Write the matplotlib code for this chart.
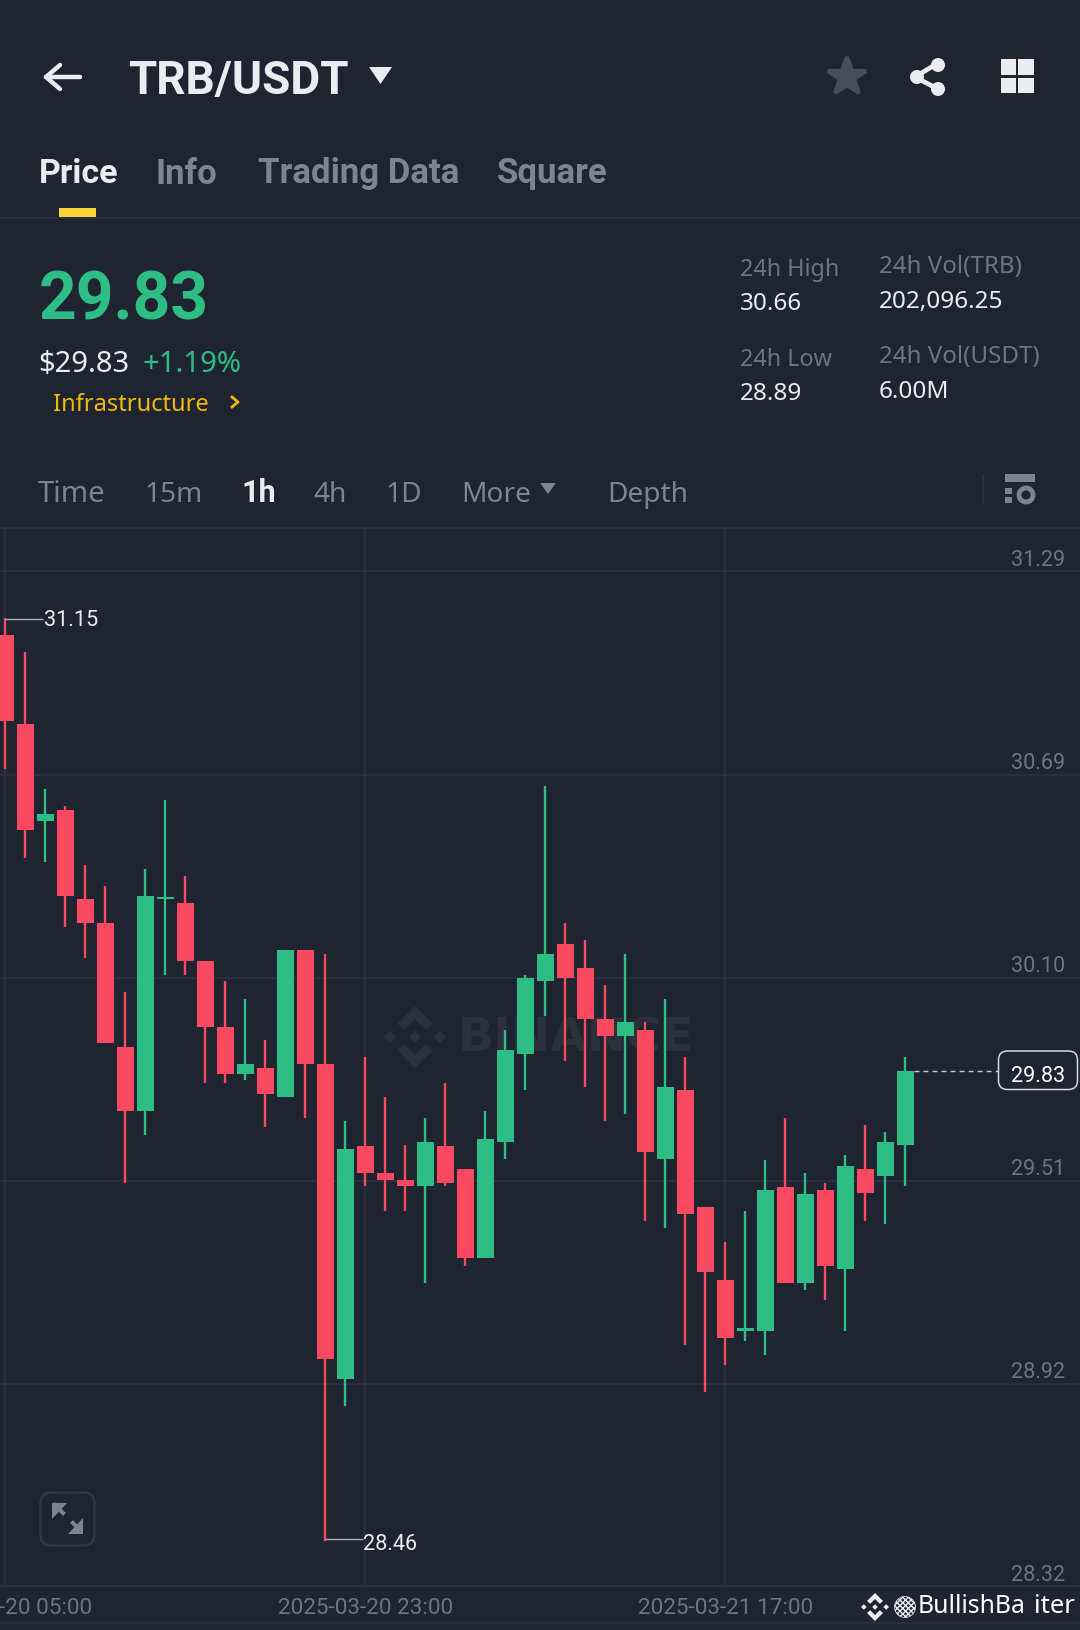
import matplotlib
matplotlib.use("Agg")
import matplotlib.pyplot as plt
from matplotlib.patches import Rectangle, FancyBboxPatch, Circle, Polygon

BG = "#1e2530"; GRID = "#2d3440"; GREEN = "#2ebd85"; RED = "#f84960"
GREY = "#7c8492"; DIM = "#6c7482"; WHITE = "#eaecef"; YELLOW = "#f0b90b"

opens = [31.105, 30.843, 30.561, 30.592, 30.331, 30.261, 29.900, 29.713, 30.331, 30.321, 30.150, 29.959,
         29.820, 29.839, 29.753, 30.182, 29.849, 28.928, 29.611, 29.532, 29.511, 29.492, 29.611, 29.541,
         29.281, 29.622, 29.880, 30.091, 30.200, 30.130, 29.981, 29.930, 29.950, 29.571, 29.773, 29.430,
         29.219, 29.069, 29.069, 29.491, 29.210, 29.481, 29.250, 29.541, 29.522, 29.612]
closes = [30.854, 30.533, 30.582, 30.342, 30.262, 29.910, 29.713, 30.342, 30.339, 30.151, 29.959, 29.820,
          29.849, 29.763, 30.182, 29.849, 28.987, 29.602, 29.532, 29.511, 29.492, 29.622, 29.501, 29.281,
          29.631, 29.889, 30.100, 30.170, 30.101, 29.981, 29.930, 29.971, 29.592, 29.781, 29.412, 29.241,
          29.049, 29.077, 29.481, 29.210, 29.470, 29.260, 29.551, 29.471, 29.622, 29.830]
highs = [31.155, 31.054, 30.653, 30.603, 30.431, 30.371, 30.060, 30.421, 30.623, 30.400, 30.150, 30.091,
         30.040, 29.920, 30.182, 30.182, 30.171, 29.682, 29.870, 29.752, 29.612, 29.693, 29.794, 29.541,
         29.712, 29.950, 30.111, 30.662, 30.262, 30.211, 30.080, 30.171, 29.971, 30.041, 29.870, 29.430,
         29.330, 29.420, 29.570, 29.691, 29.531, 29.501, 29.582, 29.672, 29.652, 29.870]
lows = [30.713, 30.452, 30.441, 30.251, 30.160, 29.910, 29.501, 29.643, 30.110, 30.110, 29.794, 29.794,
        29.803, 29.664, 29.753, 29.693, 28.455, 28.848, 29.492, 29.420, 29.420, 29.209, 29.492, 29.260,
        29.281, 29.571, 29.773, 29.990, 29.859, 29.783, 29.682, 29.703, 29.390, 29.370, 29.028, 28.889,
        28.969, 29.039, 28.999, 29.210, 29.190, 29.159, 29.069, 29.390, 29.381, 29.492]

grid_prices = [31.29, 30.696, 30.102, 29.508, 28.914, 28.32]
grid_labels = ["31.29", "30.69", "30.10", "29.51", "28.92", "28.32"]
grid_candles = [0, 18, 36]
time_labels = ["-20 05:00", "2025-03-20 23:00", "2025-03-21 17:00"]
last_price = 29.83
max_price, max_index = 31.15, 0
min_price, min_index = 28.46, 16

W, H = 1080, 1631
fig = plt.figure(figsize=(W / 100, H / 100), dpi=100, facecolor=BG)

def rect(l, t, r, b):
    return [l / W, 1 - b / H, (r - l) / W, (b - t) / H]

def logo(a, cx, cy, k, color):
    """Binance diamond mark, k = half-height in pixels."""
    u = k / 35
    for dx, s in [(0, 7), (-28, 7), (28, 7)]:
        a.add_patch(Polygon([(cx + dx * u, cy - s * u), (cx + (dx + s) * u, cy),
                             (cx + dx * u, cy + s * u), (cx + (dx - s) * u, cy)],
                            closed=True, color=color, lw=0))
    for sgn in (-1, 1):
        pts = [(0, 35), (20, 15), (12, 8), (0, 20), (-12, 8), (-20, 15)]
        a.add_patch(Polygon([(cx + x * u, cy + sgn * y * u) for x, y in pts], closed=True, color=color, lw=0))

# background layer: faint watermark and the last-price box
bg = fig.add_axes([0, 0, 1, 1], zorder=0); bg.set_xlim(0, W); bg.set_ylim(H, 0); bg.axis("off")
WM = "#2a313d"
logo(bg, 415, 1038, 31, WM)
bg.text(458, 1039, "BINANCE", color=WM, fontsize=34, family="DejaVu Sans", weight="bold", va="center", ha="left")
bg.add_patch(FancyBboxPatch((1006, 1059.5), 64, 23.5, boxstyle="round,pad=7.5,rounding_size=9", fc=BG, ec="#d5d9df", lw=1.1))

# chart
ax = fig.add_axes(rect(0, 529, 1080, 1588), zorder=1)
ax.patch.set_alpha(0)
ax.set_xlim(-0.26, 53.74)
ax.set_ylim(28.32, 31.417)
for s in ax.spines.values():
    s.set_visible(False)
ax.set_yticks(grid_prices); ax.set_xticks(grid_candles)
ax.set_xticklabels([]); ax.set_yticklabels([])
ax.tick_params(length=0)
ax.grid(True, color=GRID, lw=1.1)
ax.set_axisbelow(True)

idx = list(range(len(opens)))
colors = [GREEN if c >= o else RED for o, c in zip(opens, closes)]
ax.vlines(idx, lows, highs, colors=colors, lw=1.7, zorder=3)
ax.bar(idx, [abs(c - o) for o, c in zip(opens, closes)], bottom=[min(o, c) for o, c in zip(opens, closes)],
       width=0.865, color=colors, lw=0, zorder=4)

# price axis labels
for p, lab in zip(grid_prices, grid_labels):
    ax.annotate(lab, xy=(1065 / W, p), xycoords=("axes fraction", "data"), xytext=(0, 12),
                textcoords="offset pixels", ha="right", va="center", color=DIM, fontsize=15.6, family="Roboto",
                annotation_clip=False)
# time labels
for i, lab in zip(grid_candles, time_labels):
    kw = dict(ha="right", xytext=(87, -21)) if i == 0 else dict(ha="center", xytext=(0, -21))
    ax.annotate(lab, xy=(i, 0), xycoords=("data", "axes fraction"), textcoords="offset pixels", va="center",
                color=DIM, fontsize=16.2, family="Roboto", annotation_clip=False, **kw)

# high / low leaders
LEAD = "#aab0ba"
ax.hlines(max_price, max_index, max_index + 1.9, colors=LEAD, lw=1, zorder=5)
ax.hlines(min_price, min_index, min_index + 1.9, colors=LEAD, lw=1, zorder=5)
ax.annotate(f"{max_price:.2f}", xy=(max_index, max_price), xytext=(39, 0), textcoords="offset pixels", va="center",
            color=WHITE, fontsize=15.6, family="Roboto", zorder=6)
ax.annotate(f"{min_price:.2f}", xy=(min_index, min_price), xytext=(38, -4), textcoords="offset pixels", va="center",
            color=WHITE, fontsize=15.6, family="Roboto", zorder=6)

# last price
ax.hlines(last_price, 45.45, 49.65, colors="#c8ccd2", lw=1, linestyles=(0, (3.5, 3)), zorder=5)
ax.annotate(f"{last_price:.2f}", xy=(1038 / W, last_price), xycoords=("axes fraction", "data"), xytext=(0, -5),
            textcoords="offset pixels", ha="center", va="center", color="white", fontsize=15.6, family="Roboto",
            annotation_clip=False, zorder=7)

# UI overlay
ui = fig.add_axes([0, 0, 1, 1], zorder=2); ui.set_xlim(0, W); ui.set_ylim(H, 0); ui.axis("off"); ui.patch.set_alpha(0)
NS = "Noto Sans"; RB = "Roboto"
def T(x, y, s, color=GREY, size=18, weight="normal", ha="left", family=NS):
    ui.text(x, y, s, color=color, fontsize=size, weight=weight, ha=ha, va="center", family=family)

for y in (218.5, 529, 1587.5, 1624):
    ui.plot([0, W], [y, y], color=GRID, lw=1.1)
ui.plot([983, 983], [476, 505], color=GRID, lw=1.2)

# header
ui.plot([46, 80], [78, 78], color=WHITE, lw=3.2, solid_capstyle="round")
ui.plot([60, 46, 60], [66, 78, 90], color=WHITE, lw=3.2, solid_capstyle="round", solid_joinstyle="round")
T(128, 81, "TRB/USDT", WHITE, 33, "bold", family=RB)
ui.add_patch(Polygon([(369, 68), (392, 68), (380.5, 85)], closed=True, color=WHITE, lw=0))
ui.plot([847], [78], marker="*", ms=29, color="#474e5b", mew=3, mec="#474e5b", mfc="#474e5b")
for a, b in [((938, 64), (915, 78)), ((915, 78), (938, 90))]:
    ui.plot([a[0], b[0]], [a[1], b[1]], color=WHITE, lw=3.4)
for c in [(938, 66), (917, 78), (938, 90)]:
    ui.add_patch(Circle(c, 7, color=WHITE, lw=0))
for l, t, r, b in [(1001, 60, 1016, 76), (1018, 60, 1034, 76), (1001, 79, 1016, 94), (1018, 79, 1034, 94)]:
    ui.add_patch(Rectangle((l, t), r - l, b - t, color=WHITE, lw=0))

# tabs
T(39, 174, "Price", WHITE, 24.5, "bold", family=RB)
T(155, 174, "Info", GREY, 25, "bold", family=RB)
T(258, 174, "Trading Data", GREY, 25, "bold", family=RB)
T(497, 174, "Square", GREY, 25, "bold", family=RB)
ui.add_patch(Rectangle((59, 209), 37, 9, color="#fcd535", lw=0))

# price block
T(39, 301, "29.83", GREEN, 47.5, "bold", family=RB)
T(38, 365, "$29.83", WHITE, 21)
T(142, 365, "+1.19%", GREEN, 21)
T(53, 405, "Infrastructure", YELLOW, 17)
ui.plot([232, 238, 232], [398, 403, 408], color=YELLOW, lw=2)

# 24h stats
T(740, 270, "24h High", DIM, 16.8); T(740, 304, "30.66", WHITE, 17.5)
T(879, 267, "24h Vol(TRB)", DIM, 17.4); T(879, 302, "202,096.25", WHITE, 17.5)
T(740, 360, "24h Low", DIM, 16.8); T(740, 394, "28.89", WHITE, 17.5)
T(879, 357, "24h Vol(USDT)", DIM, 17.4); T(879, 392, "6.00M", WHITE, 17.5)

# intervals
T(38, 495, "Time", GREY, 21); T(144, 495, "15m", GREY, 20.2)
T(242, 493, "1h", WHITE, 22, "bold", family=RB); T(313, 495, "4h", GREY, 20.2)
T(385, 495, "1D", GREY, 20.2); T(461, 495, "More", GREY, 20.2)
ui.add_patch(Polygon([(540, 484), (556, 484), (548, 495)], closed=True, color=GREY, lw=0))
T(607, 495, "Depth", GREY, 20.2)
ui.add_patch(Rectangle((1005, 475), 30, 8, color=GREY, lw=0))
ui.add_patch(Rectangle((1005, 489), 7, 6, color=GREY, lw=0))
ui.add_patch(Rectangle((1005, 498), 7, 6, color=GREY, lw=0))
ui.add_patch(Circle((1026, 496), 7, fc=BG, ec=GREY, lw=3.5))

# expand button
ui.add_patch(FancyBboxPatch((50, 1503), 35, 34, boxstyle="round,pad=9.5,rounding_size=11", fc="none", ec="#303642", lw=1.8))
ui.plot([55, 63], [1506, 1514], color=GREY, lw=3)
ui.plot([73, 80], [1524, 1531], color=GREY, lw=3)
ui.add_patch(Polygon([(52, 1504), (67, 1504), (52, 1520)], closed=True, color=GREY, lw=0))
ui.add_patch(Polygon([(83, 1535), (68, 1535), (83, 1519)], closed=True, color=GREY, lw=0))

# Square tag at bottom right
logo(ui, 875, 1608, 14, WHITE)
ui.add_patch(Circle((905, 1608), 10.5, fc=BG, ec=WHITE, lw=0.5, hatch="xxxxxx"))
T(918, 1607, "BullishBa", "white", 17.8)
T(1034, 1607, "iter", "white", 18.5)

fig.savefig("out.png", dpi=100, facecolor=BG)
